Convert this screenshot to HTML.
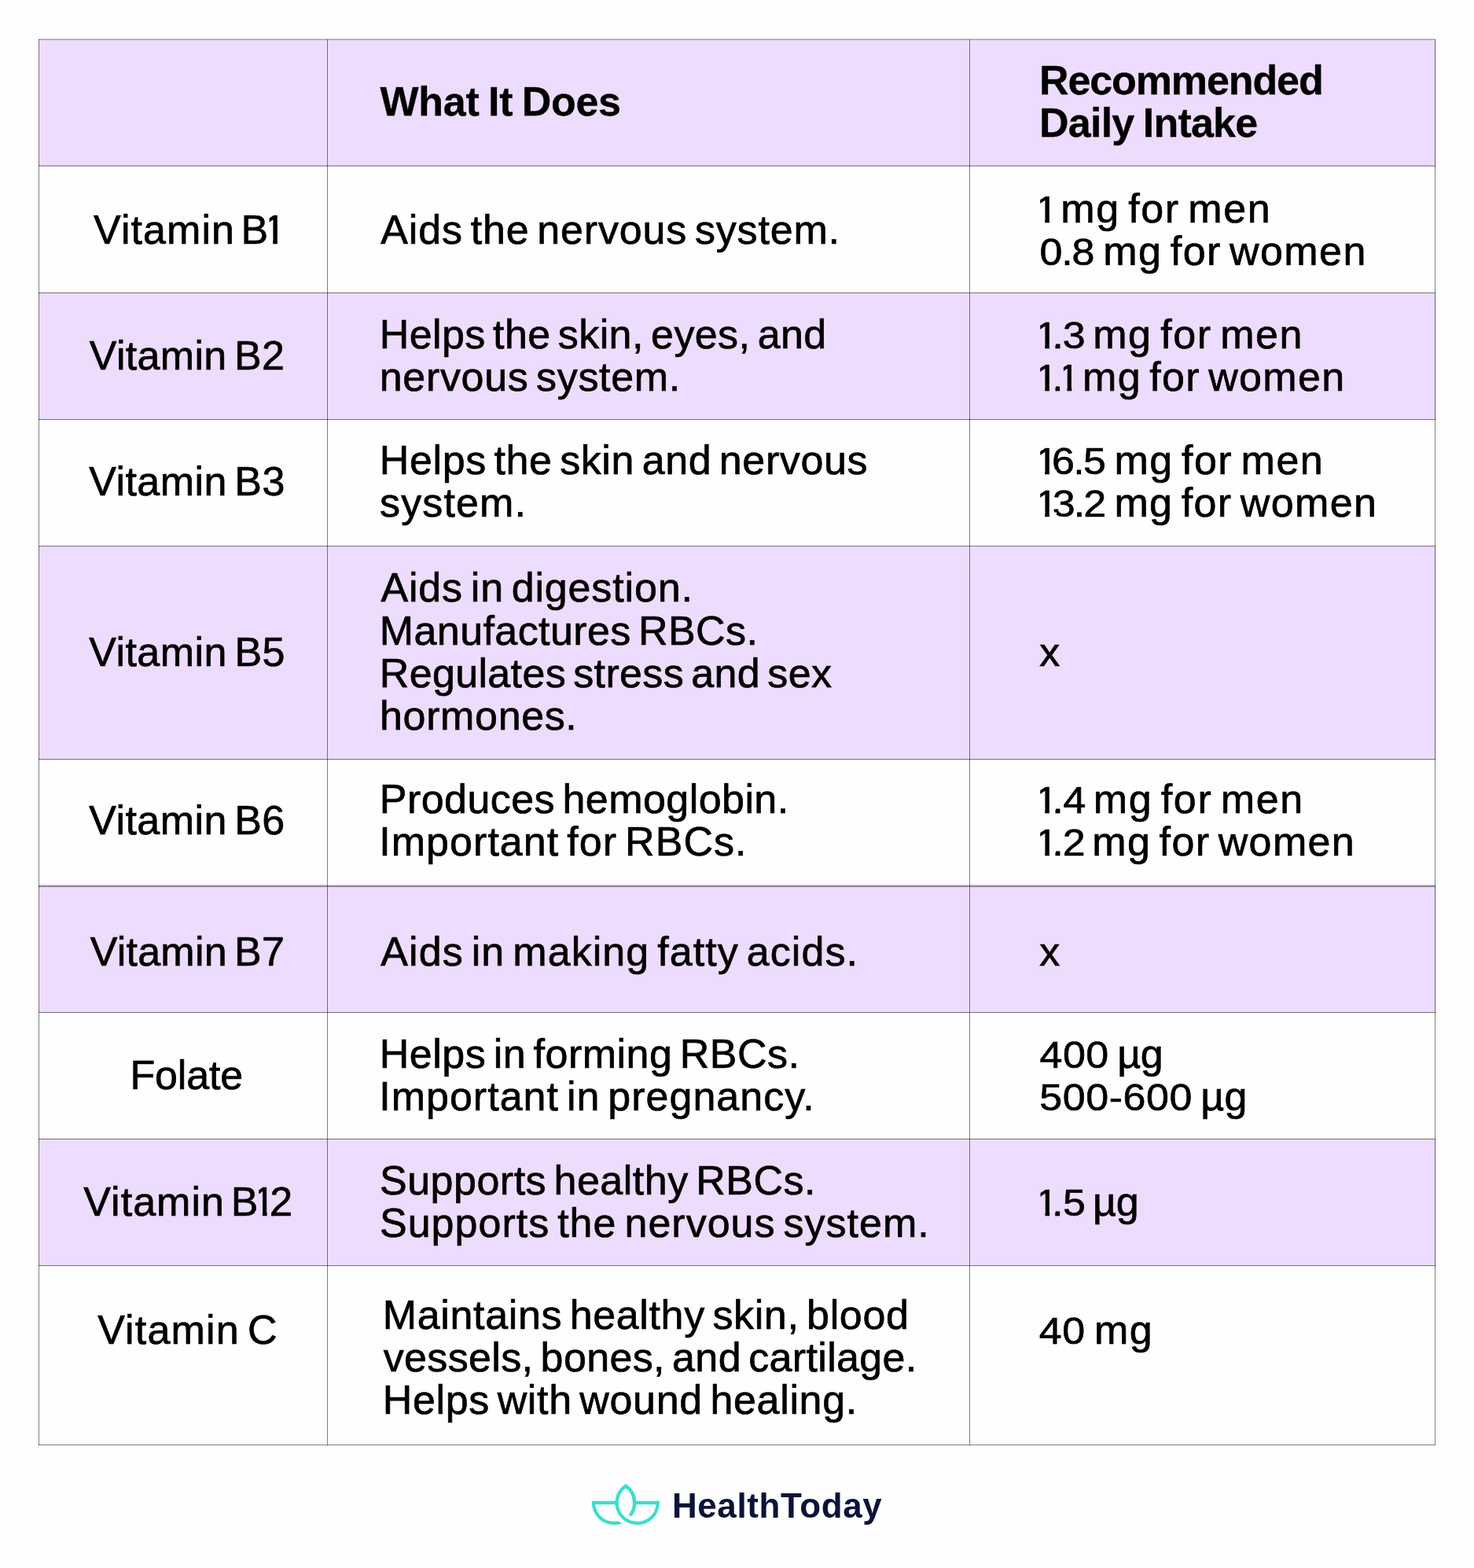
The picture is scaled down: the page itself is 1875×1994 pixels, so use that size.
<!DOCTYPE html>
<html lang="en">
<head>
<meta charset="utf-8">
<title>Vitamin B and vitamin C: what they do and recommended daily intake | HealthToday</title>
<style>
html,body{margin:0;padding:0;background:#fff;}
body{width:1875px;height:1994px;position:relative;overflow:hidden;font-family:"Liberation Sans",Arial,Helvetica,sans-serif;color:#000;}
#chart{position:absolute;left:0;top:0;width:1875px;height:1994px;background:#fefefe;}
.bg{position:absolute;left:49px;width:1777px;background:#eddcfd;}
.fr{position:absolute;left:1826px;width:2px;background:linear-gradient(90deg,#eedefd 0,#eedefd 50%,#faf5ff 50%,#faf5ff 100%);}
.hl{position:absolute;left:49px;width:1777px;height:1px;background:rgba(0,0,0,.5);}
.hs{position:absolute;left:49px;width:1777px;height:1px;}
.vl{position:absolute;top:50px;width:1px;height:1788px;background:rgba(0,0,0,.5);}
.t{position:absolute;left:0;white-space:nowrap;word-spacing:0;font-size:52px;line-height:60px;height:60px;margin:0;padding:0;font-weight:400;color:#000;letter-spacing:0;-webkit-text-stroke:0.7px #000;}
.t.b{font-weight:700;-webkit-text-stroke:0.3px #000;}
.p{display:inline-block;line-height:60px;height:60px;vertical-align:baseline;word-spacing:-5.5px;}
.b .p{word-spacing:-2.5px;}
.n{transform:scaleY(.93);transform-origin:0 48px;}
.f::first-letter{letter-spacing:var(--a);margin-right:var(--b);}
.logo{position:absolute;left:745px;top:1880px;}
.brand{position:absolute;white-space:nowrap;font-family:"Liberation Sans",Arial,Helvetica,sans-serif;font-weight:700;color:#0a1339;line-height:60px;height:60px;margin:0;}
</style>
</head>
<body>
<div id="chart">
<div class="bg" style="top:50px;height:162px"></div>
<div class="fr" style="top:50px;height:162px"></div>
<div class="bg" style="top:372px;height:162px"></div>
<div class="fr" style="top:372px;height:162px"></div>
<div class="bg" style="top:694px;height:272px"></div>
<div class="fr" style="top:694px;height:272px"></div>
<div class="bg" style="top:1126px;height:162px"></div>
<div class="fr" style="top:1126px;height:162px"></div>
<div class="bg" style="top:1448px;height:162px"></div>
<div class="fr" style="top:1448px;height:162px"></div>
<div class="hs" style="top:49px;background:rgba(0,0,0,.2)"></div>
<div class="hs" style="top:50px;background:rgba(0,0,0,.28)"></div>
<div class="hs" style="top:210px;background:rgba(0,0,0,.28)"></div>
<div class="hs" style="top:211px;background:rgba(0,0,0,.24)"></div>
<div class="hs" style="top:1125px;background:rgba(0,0,0,.22)"></div>
<div class="hs" style="top:1126px;background:rgba(0,0,0,.25)"></div>
<div class="hl" style="top:372px"></div>
<div class="hl" style="top:533px"></div>
<div class="hl" style="top:694px"></div>
<div class="hl" style="top:965px"></div>
<div class="hl" style="top:1127px"></div>
<div class="hl" style="top:1287px"></div>
<div class="hl" style="top:1448px"></div>
<div class="hl" style="top:1609px"></div>
<div class="hl" style="top:1837px"></div>
<div class="vl" style="left:49px"></div>
<div class="vl" style="left:416px"></div>
<div class="vl" style="left:1233px"></div>
<div class="vl" style="left:1825px"></div>
<div class="t b" style="top:99px"><span class="p" id="p0_0" style="margin-left:483.60px;letter-spacing:-0.315px">What It Does</span></div>
<div class="t b" style="top:72px"><span class="p" id="p1_0" style="margin-left:1321.98px;letter-spacing:-1.105px">Recommended</span></div>
<div class="t b" style="top:126px"><span class="p" id="p2_0" style="margin-left:1321.98px;letter-spacing:-0.753px">Daily Intake</span></div>
<div class="t r" style="top:262px"><span class="p" id="p3_0" style="margin-left:119.11px;letter-spacing:1.061px">Vitamin</span> <span class="p" id="p3_1" style="margin-left:-6.85px;letter-spacing:-6.601px;clip-path:path('M3.62 -8.0H32.59V17.0H3.62ZM3.62 17.0H32.25V23.5H3.62ZM3.62 23.5H32.59V42.0H3.62ZM3.62 42.0H31.20V75.0H3.62ZM36.02 -8.0H46.52V42.0H36.02ZM40.62 42.0H46.32V70.0H40.62Z')">B1</span></div>
<div class="t r" style="top:262px"><span class="p" id="p4_0" style="margin-left:484.35px;letter-spacing:0.839px">Aids the nervous system.</span></div>
<div class="t r" style="top:235px"><span class="p n" id="p5_0" style="margin-left:1316.68px;clip-path:path('M6.53 -8.0H18.42V42.0H6.53ZM12.53 42.0H18.22V70.0H12.53Z')">1</span> <span class="p" id="p5_1" style="margin-left:-10.84px;letter-spacing:1.600px">mg for men</span></div>
<div class="t r" style="top:289px"><span class="p n" id="p6_0" style="margin-left:1322.58px;letter-spacing:-1.252px">0.8</span> <span class="p" id="p6_1" style="margin-left:-2.23px;letter-spacing:1.414px">mg for women</span></div>
<div class="t r" style="top:422px"><span class="p" id="p7_0" style="margin-left:113.82px;letter-spacing:0.337px">Vitamin B2</span></div>
<div class="t r" style="top:395px"><span class="p" id="p8_0" style="margin-left:482.82px;letter-spacing:0.393px">Helps the skin, eyes, and</span></div>
<div class="t r" style="top:449px"><span class="p" id="p9_0" style="margin-left:482.77px;letter-spacing:0.670px">nervous system.</span></div>
<div class="t r" style="top:395px"><span class="p n f" id="p10_0" style="margin-left:1316.68px;--a:-7.214px;--b:6.058px;clip-path:path('M6.53 -8.0H18.42V42.0H6.53ZM12.53 42.0H18.22V70.0H12.53ZM25.80 -8.0H32.05V17.0H25.80ZM25.80 17.0H32.05V23.5H25.80ZM25.80 23.5H32.05V42.0H25.80ZM25.80 42.0H32.05V75.0H25.80ZM36.31 -8.0H62.27V17.0H36.31ZM36.31 17.0H62.27V23.5H36.31ZM36.31 23.5H62.27V42.0H36.31ZM36.31 42.0H62.27V75.0H36.31Z')">1.3</span> <span class="p" id="p10_1" style="margin-left:-4.89px;letter-spacing:1.600px">mg for men</span></div>
<div class="t r" style="top:449px"><span class="p n f" id="p11_0" style="margin-left:1316.68px;--a:-7.214px;--b:-0.657px;clip-path:path('M6.53 -8.0H18.42V42.0H6.53ZM12.53 42.0H18.22V70.0H12.53ZM25.80 -8.0H32.05V17.0H25.80ZM25.80 17.0H32.05V23.5H25.80ZM25.80 23.5H32.05V42.0H25.80ZM25.80 42.0H31.41V75.0H25.80ZM36.22 -8.0H46.72V42.0H36.22ZM40.82 42.0H46.52V70.0H40.82Z')">1.1</span> <span class="p" id="p11_1" style="margin-left:-11.25px;letter-spacing:1.325px">mg for women</span></div>
<div class="t r" style="top:582px"><span class="p" id="p12_0" style="margin-left:113.20px;letter-spacing:0.469px">Vitamin B3</span></div>
<div class="t r" style="top:555px"><span class="p" id="p13_0" style="margin-left:482.82px;letter-spacing:0.619px">Helps the skin and nervous</span></div>
<div class="t r" style="top:609px"><span class="p" id="p14_0" style="margin-left:483.09px;letter-spacing:1.110px">system.</span></div>
<div class="t r" style="top:555px"><span class="p n f" id="p15_0" style="margin-left:1316.68px;letter-spacing:-1.677px;--a:-7.600px;--b:0.000px;clip-path:path('M6.53 -8.0H18.42V42.0H6.53ZM12.53 42.0H18.22V70.0H12.53ZM23.32 -8.0H48.61V17.0H23.32ZM23.32 17.0H48.61V23.5H23.32ZM23.32 23.5H48.61V42.0H23.32ZM27.33 42.0H48.61V75.0H27.33ZM52.66 -8.0H58.91V17.0H52.66ZM52.66 17.0H58.91V23.5H52.66ZM52.66 23.5H58.91V42.0H52.66ZM52.66 42.0H58.91V75.0H52.66ZM62.76 -8.0H88.71V17.0H62.76ZM62.76 17.0H88.71V23.5H62.76ZM62.76 23.5H88.71V42.0H62.76ZM62.76 42.0H88.71V75.0H62.76Z')">16.5</span> <span class="p" id="p15_1" style="margin-left:-2.32px;letter-spacing:1.483px">mg for men</span></div>
<div class="t r" style="top:609px"><span class="p n f" id="p16_0" style="margin-left:1316.68px;letter-spacing:-1.894px;--a:-6.932px;--b:0.000px;clip-path:path('M6.53 -8.0H18.42V42.0H6.53ZM12.53 42.0H18.22V70.0H12.53ZM23.31 -8.0H49.27V17.0H23.31ZM23.31 17.0H49.27V23.5H23.31ZM23.31 23.5H49.27V42.0H23.31ZM27.33 42.0H49.27V75.0H27.33ZM53.10 -8.0H59.35V17.0H53.10ZM53.10 17.0H59.35V23.5H53.10ZM53.10 23.5H59.35V42.0H53.10ZM53.10 42.0H59.35V75.0H53.10ZM63.53 -8.0H88.52V17.0H63.53ZM63.53 17.0H88.52V23.5H63.53ZM63.53 23.5H88.52V42.0H63.53ZM63.53 42.0H88.52V75.0H63.53Z')">13.2</span> <span class="p" id="p16_1" style="margin-left:-2.32px;letter-spacing:1.374px">mg for women</span></div>
<div class="t r" style="top:799px"><span class="p" id="p17_0" style="margin-left:113.20px;letter-spacing:0.477px">Vitamin B5</span></div>
<div class="t r" style="top:717px"><span class="p" id="p18_0" style="margin-left:484.41px;letter-spacing:0.844px">Aids in digestion.</span></div>
<div class="t r" style="top:772px"><span class="p" id="p19_0" style="margin-left:482.78px;letter-spacing:0.408px">Manufactures RBCs.</span></div>
<div class="t r" style="top:826px"><span class="p" id="p20_0" style="margin-left:482.78px;letter-spacing:0.341px">Regulates stress and sex</span></div>
<div class="t r" style="top:880px"><span class="p" id="p21_0" style="margin-left:483.07px;letter-spacing:0.634px">hormones.</span></div>
<div class="t r" style="top:799px"><span class="p" id="p22_0" style="margin-left:1322.24px">x</span></div>
<div class="t r" style="top:1013px"><span class="p" id="p23_0" style="margin-left:113.20px;letter-spacing:0.455px">Vitamin B6</span></div>
<div class="t r" style="top:986px"><span class="p" id="p24_0" style="margin-left:482.82px;letter-spacing:0.444px">Produces hemoglobin.</span></div>
<div class="t r" style="top:1040px"><span class="p" id="p25_0" style="margin-left:482.25px;letter-spacing:1.042px">Important for RBCs.</span></div>
<div class="t r" style="top:986px"><span class="p n f" id="p26_0" style="margin-left:1316.68px;--a:-7.214px;--b:6.849px;clip-path:path('M6.53 -8.0H18.42V42.0H6.53ZM12.53 42.0H18.22V70.0H12.53ZM25.80 -8.0H32.05V17.0H25.80ZM25.80 17.0H32.05V23.5H25.80ZM25.80 23.5H32.05V42.0H25.80ZM25.80 42.0H32.05V75.0H25.80ZM36.31 -8.0H63.81V17.0H36.31ZM36.31 17.0H63.81V23.5H36.31ZM36.31 23.5H63.81V42.0H36.31ZM36.31 42.0H63.81V75.0H36.31Z')">1.4</span> <span class="p" id="p26_1" style="margin-left:-5.00px;letter-spacing:1.600px">mg for men</span></div>
<div class="t r" style="top:1040px"><span class="p n f" id="p27_0" style="margin-left:1316.68px;--a:-7.214px;--b:6.121px;clip-path:path('M6.53 -8.0H18.42V42.0H6.53ZM12.53 42.0H18.22V70.0H12.53ZM25.80 -8.0H32.05V17.0H25.80ZM25.80 17.0H32.05V23.5H25.80ZM25.80 23.5H32.05V42.0H25.80ZM25.80 42.0H32.05V75.0H25.80ZM37.01 -8.0H62.00V17.0H37.01ZM37.01 17.0H62.00V23.5H37.01ZM37.01 23.5H62.00V42.0H37.01ZM37.01 42.0H62.00V75.0H37.01Z')">1.2</span> <span class="p" id="p27_1" style="margin-left:-5.81px;letter-spacing:1.364px">mg for women</span></div>
<div class="t r" style="top:1180px"><span class="p" id="p28_0" style="margin-left:114.82px;letter-spacing:0.222px">Vitamin B7</span></div>
<div class="t r" style="top:1180px"><span class="p" id="p29_0" style="margin-left:484.35px;letter-spacing:1.054px">Aids in making fatty acids.</span></div>
<div class="t r" style="top:1180px"><span class="p" id="p30_0" style="margin-left:1322.24px">x</span></div>
<div class="t r" style="top:1337px"><span class="p" id="p31_0" style="margin-left:165.40px;letter-spacing:-0.157px">Folate</span></div>
<div class="t r" style="top:1310px"><span class="p" id="p32_0" style="margin-left:482.80px;letter-spacing:0.492px">Helps in forming RBCs.</span></div>
<div class="t r" style="top:1364px"><span class="p" id="p33_0" style="margin-left:482.25px;letter-spacing:1.003px">Important in pregnancy.</span></div>
<div class="t r" style="top:1310px"><span class="p n" id="p34_0" style="margin-left:1322.42px;letter-spacing:0.561px">400</span> <span class="p" id="p34_1" style="margin-left:-3.98px;letter-spacing:-0.518px">&micro;g</span></div>
<div class="t r" style="top:1364px"><span class="p n" id="p35_0" style="margin-left:1322.21px;letter-spacing:0.557px">500-600</span> <span class="p" id="p35_1" style="margin-left:-4.20px;letter-spacing:0.331px">&micro;g</span></div>
<div class="t r" style="top:1498px"><span class="p" id="p36_0" style="margin-left:106.22px;letter-spacing:1.056px">Vitamin</span> <span class="p" id="p36_1" style="margin-left:-6.76px;letter-spacing:-7.100px;clip-path:path('M3.62 -8.0H32.59V17.0H3.62ZM3.62 17.0H31.75V23.5H3.62ZM3.62 23.5H32.59V42.0H3.62ZM3.62 42.0H30.70V75.0H3.62ZM35.52 -8.0H46.02V42.0H35.52ZM40.12 42.0H45.82V70.0H40.12ZM51.39 -8.0H76.38V17.0H51.39ZM51.39 17.0H76.38V23.5H51.39ZM51.39 23.5H76.38V42.0H51.39ZM51.39 42.0H76.38V75.0H51.39Z')">B12</span></div>
<div class="t r" style="top:1471px"><span class="p" id="p37_0" style="margin-left:482.96px;letter-spacing:0.500px">Supports healthy RBCs.</span></div>
<div class="t r" style="top:1525px"><span class="p" id="p38_0" style="margin-left:482.96px;letter-spacing:1.014px">Supports the nervous system.</span></div>
<div class="t r" style="top:1498px"><span class="p n f" id="p39_0" style="margin-left:1316.98px;--a:-7.714px;--b:7.054px;clip-path:path('M6.53 -8.0H18.42V42.0H6.53ZM12.53 42.0H18.22V70.0H12.53ZM25.30 -8.0H31.55V17.0H25.30ZM25.30 17.0H31.55V23.5H25.30ZM25.30 23.5H31.55V42.0H25.30ZM25.30 42.0H31.55V75.0H25.30ZM36.42 -8.0H62.37V17.0H36.42ZM36.42 17.0H62.37V23.5H36.42ZM36.42 23.5H62.37V42.0H36.42ZM36.42 42.0H62.37V75.0H36.42Z')">1.5</span> <span class="p" id="p39_1" style="margin-left:-5.39px;letter-spacing:-0.082px">&micro;g</span></div>
<div class="t r" style="top:1661px"><span class="p" id="p40_0" style="margin-left:124.20px;letter-spacing:1.168px">Vitamin C</span></div>
<div class="t r" style="top:1642px"><span class="p" id="p41_0" style="margin-left:486.80px;letter-spacing:0.637px">Maintains healthy skin, blood</span></div>
<div class="t r" style="top:1696px"><span class="p" id="p42_0" style="margin-left:487.73px;letter-spacing:0.345px">vessels, bones, and cartilage.</span></div>
<div class="t r" style="top:1750px"><span class="p" id="p43_0" style="margin-left:486.80px;letter-spacing:0.657px">Helps with wound healing.</span></div>
<div class="t r" style="top:1661px"><span class="p n" id="p44_0" style="margin-left:1321.84px;letter-spacing:0.525px">40</span> <span class="p" id="p44_1" style="margin-left:-3.31px;letter-spacing:1.600px">mg</span></div>
<svg class="logo" width="100" height="66" viewBox="745 1880 100 66" role="img" aria-label="HealthToday logo">
<g fill="none" stroke="#40ddcd" stroke-width="4.3" stroke-linejoin="miter" stroke-linecap="butt">
<path d="M784.6 1911H755.05A26.05 26.05 0 0 0 795.9 1932.44"/>
<path d="M795.9 1889.56A26.05 26.05 0 0 1 797.5 1931.3"/>
<path d="M788.7 1925A26.05 26.05 0 0 0 806.6 1936.7" stroke="#fefefe" stroke-width="14.3"/>
<path d="M807.2 1911H836.75A26.05 26.05 0 1 1 795.9 1889.56A26.05 26.05 0 0 1 807.15 1911"/>
</g>
</svg>
<div class="brand" id="brand" style="left:854.92px;top:1885px;font-size:43.90px;letter-spacing:0.660px">HealthToday</div>
</div>
</body>
</html>
